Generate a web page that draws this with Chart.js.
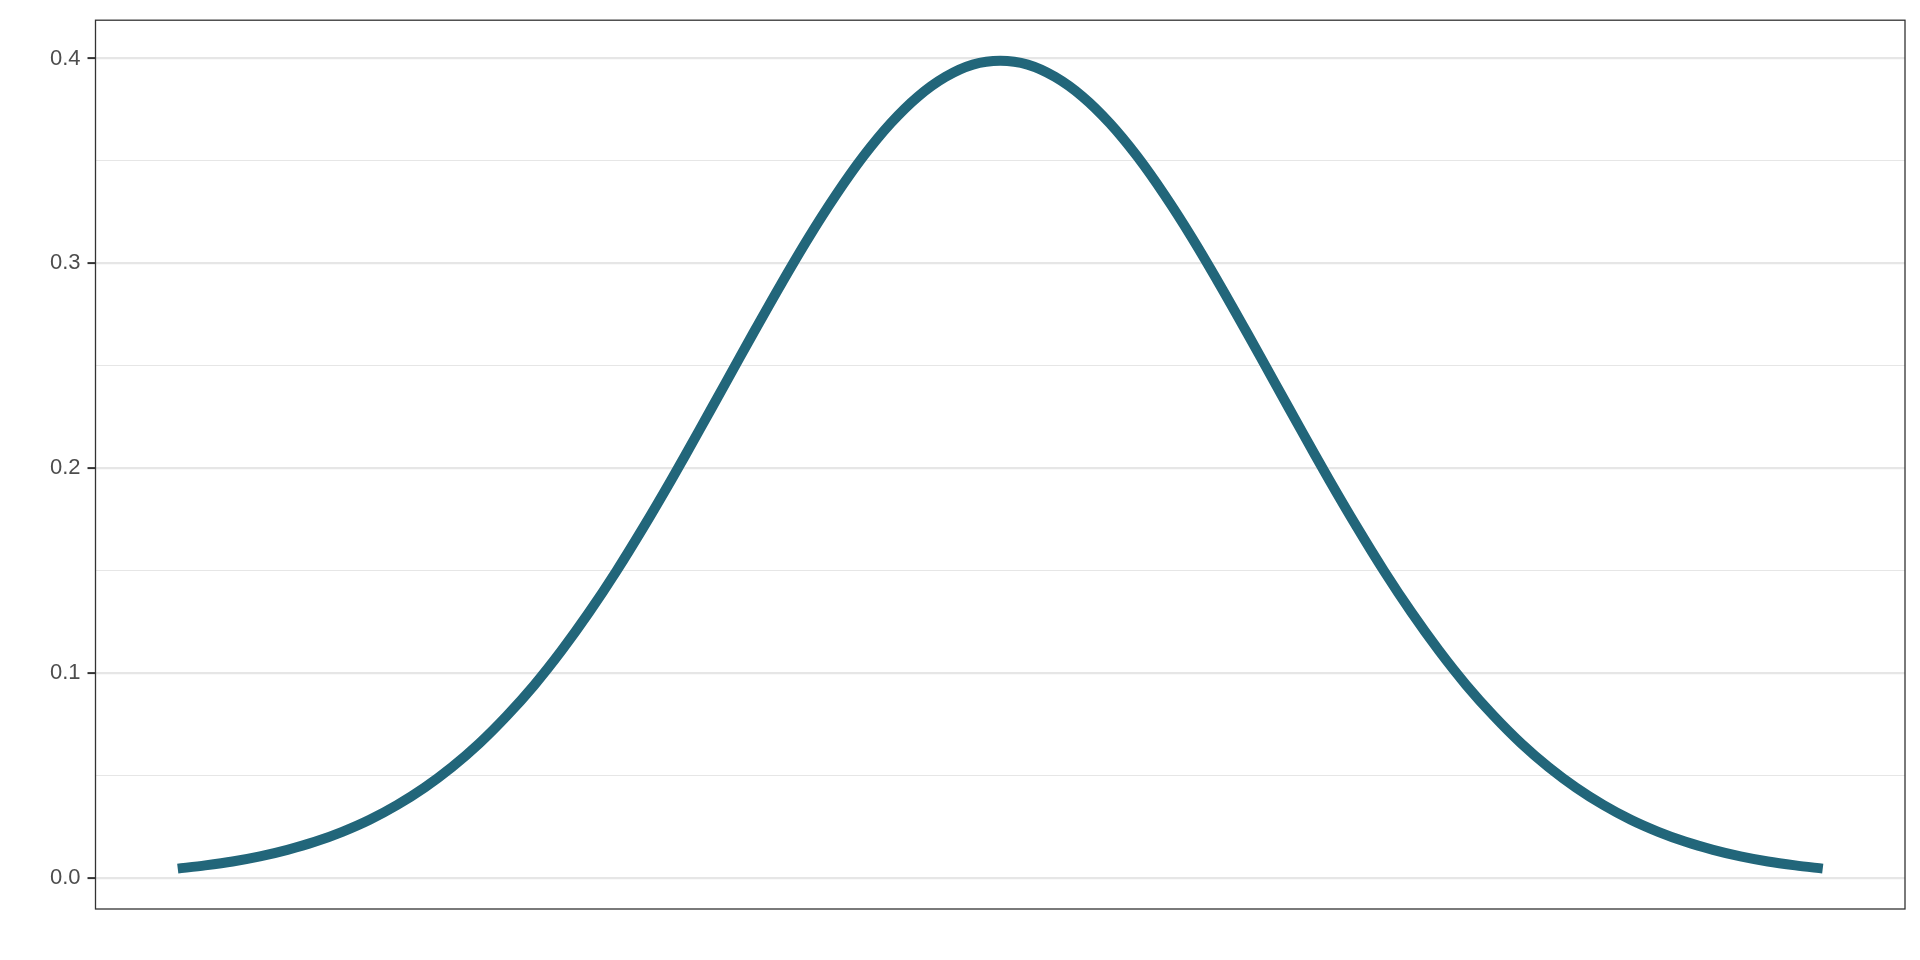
<!DOCTYPE html>
<html>
<head>
<meta charset="utf-8">
<script src="https://cdn.jsdelivr.net/npm/chart.js@4"></script>
<style>
  html, body { margin: 0; padding: 0; background: #fff; }
  #wrap { width: 1920px; height: 960px; }
</style>
</head>
<body>
<div id="wrap"><canvas id="chart"></canvas></div>
<script>
// x positions of the curve and the density
var xs = [-3.0, -2.9, -2.8, -2.7, -2.6, -2.5, -2.4, -2.3, -2.2, -2.1,
          -2.0, -1.9, -1.8, -1.7, -1.6, -1.5, -1.4, -1.3, -1.2, -1.1,
          -1.0, -0.9, -0.8, -0.7, -0.6, -0.5, -0.4, -0.3, -0.2, -0.1,
          0.0, 0.1, 0.2, 0.3, 0.4, 0.5, 0.6, 0.7, 0.8, 0.9,
          1.0, 1.1, 1.2, 1.3, 1.4, 1.5, 1.6, 1.7, 1.8, 1.9,
          2.0, 2.1, 2.2, 2.3, 2.4, 2.5, 2.6, 2.7, 2.8, 2.9, 3.0];
var density = [0.0044, 0.0060, 0.0079, 0.0104, 0.0136, 0.0175, 0.0224, 0.0283, 0.0355, 0.0440,
               0.0540, 0.0656, 0.0790, 0.0940, 0.1109, 0.1295, 0.1497, 0.1714, 0.1942, 0.2179,
               0.2420, 0.2661, 0.2897, 0.3123, 0.3332, 0.3521, 0.3683, 0.3814, 0.3910, 0.3970,
               0.3989, 0.3970, 0.3910, 0.3814, 0.3683, 0.3521, 0.3332, 0.3123, 0.2897, 0.2661,
               0.2420, 0.2179, 0.1942, 0.1714, 0.1497, 0.1295, 0.1109, 0.0940, 0.0790, 0.0656,
               0.0540, 0.0440, 0.0355, 0.0283, 0.0224, 0.0175, 0.0136, 0.0104, 0.0079, 0.0060, 0.0044];
var majorTicks = [0, 0.1, 0.2, 0.3, 0.4];
var minorTicks = [0.05, 0.15, 0.25, 0.35];

var points = xs.map(function (x, i) { return { x: x, y: density[i] }; });

// panel frame like ggplot theme_bw
var panelBorder = {
    id: "panelBorder",
    afterDraw: function (chart) {
        var a = chart.chartArea, ctx = chart.ctx;
        ctx.save();
        ctx.strokeStyle = "#333333";
        ctx.lineWidth = 1.3;
        ctx.strokeRect(a.left, a.top, a.right - a.left, a.bottom - a.top);
        ctx.restore();
    }
};

function isMajor(v) {
    return majorTicks.some(function (m) { return Math.abs(m - v) < 1e-6; });
}

new Chart(document.getElementById("chart"), {
    type: "line",
    data: {
        datasets: [{
            data: points,
            borderColor: "#22667A",
            borderWidth: 10,
            borderCapStyle: "butt",
            borderJoinStyle: "round",
            pointRadius: 0,
            fill: false,
            tension: 0.3
        }]
    },
    options: {
        responsive: true,
        maintainAspectRatio: false,
        animation: false,
        layout: { padding: { top: 15, right: 15, bottom: 51, left: 0 } },
        plugins: { legend: { display: false }, tooltip: { enabled: false } },
        scales: {
            x: {
                type: "linear",
                min: -3.3,
                max: 3.3,
                display: false
            },
            y: {
                type: "linear",
                min: -0.0153,
                max: 0.4187,
                afterBuildTicks: function (scale) {
                    scale.ticks = majorTicks.concat(minorTicks).map(function (v) { return { value: v }; });
                },
                afterFit: function (scale) { scale.width = 95.5; },
                border: { display: false },
                grid: {
                    drawOnChartArea: true,
                    drawTicks: true,
                    tickLength: 8,
                    tickWidth: 2,
                    tickColor: function (ctx) { return isMajor(ctx.tick.value) ? "#333333" : "rgba(0,0,0,0)"; },
                    color: "#E6E6E6",
                    lineWidth: function (ctx) { return ctx.tick && isMajor(ctx.tick.value) ? 2.2 : 1.1; }
                },
                ticks: {
                    padding: 7,
                    color: "#4D4D4D",
                    font: { family: "Liberation Sans, Arial, sans-serif", size: 22 },
                    callback: function (v) { return isMajor(v) ? v.toFixed(1) : ""; }
                }
            }
        }
    },
    plugins: [panelBorder]
});
</script>
</body>
</html>
